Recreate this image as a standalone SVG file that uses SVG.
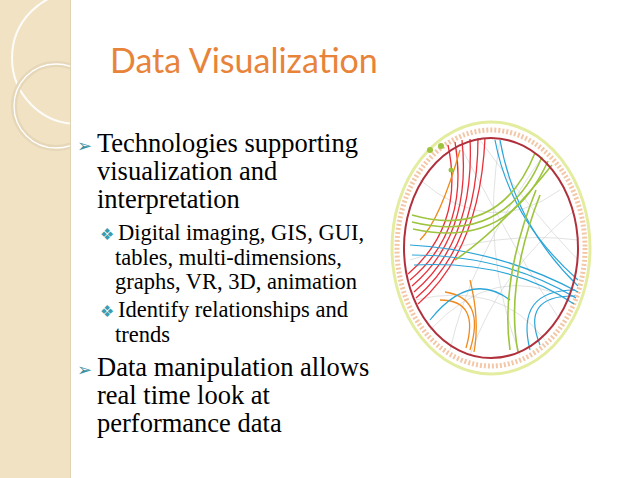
<svg xmlns="http://www.w3.org/2000/svg" width="638" height="478" viewBox="0 0 638 478">
<style>
.b{font-family:"Liberation Serif",serif;font-size:26.5px;fill:#000}
.s{font-family:"Liberation Serif",serif;font-size:22.5px;fill:#000}
.ar{fill:#3a8fa0;font-size:18px}
.dm{fill:#3a9cb0;font-size:16px}
.g{fill:none;stroke:#bbb;stroke-width:0.6;opacity:.7}
.r{fill:none;stroke:#e8303a;stroke-width:1.3}
.o{fill:none;stroke:#f08a1c;stroke-width:1.3}
.c{fill:none;stroke:#2aa5d8;stroke-width:1.2}
.l{fill:none;stroke:#9cc43c;stroke-width:1.6}
</style>
<defs><clipPath id="cp"><rect width="70" height="478"/></clipPath></defs>
<rect width="638" height="478" fill="#fff"/>
<rect width="70" height="478" fill="#f1e2c4"/>
<line x1="70.5" y1="0" x2="70.5" y2="478" stroke="#e0d2b4" stroke-width="1"/>
<g clip-path="url(#cp)">
<circle cx="78" cy="58" r="66" fill="none" stroke="#fff" stroke-width="2" opacity=".9"/>
<circle cx="56" cy="106" r="42" fill="none" stroke="#e6d7b8" stroke-width="6"/>
<circle cx="56" cy="106" r="42" fill="none" stroke="#fff" stroke-width="1.3"/>
</g>
<text x="110" y="73" font-family="Lato,sans-serif" font-size="34" fill="#e8833a">Data Visualization</text>
<g id="text">
<text class="b" x="77" y="152"><tspan class="ar">➢</tspan><tspan x="97">Technologies supporting</tspan></text>
<text class="b" x="97" y="180">visualization and</text>
<text class="b" x="97" y="208">interpretation</text>
<text class="s" x="100" y="240"><tspan class="dm">❖</tspan><tspan x="118">Digital imaging, GIS, GUI,</tspan></text>
<text class="s" x="115" y="265">tables, multi-dimensions,</text>
<text class="s" x="115" y="289">graphs, VR, 3D, animation</text>
<text class="s" x="100" y="317"><tspan class="dm">❖</tspan><tspan x="118">Identify relationships and</tspan></text>
<text class="s" x="115" y="342">trends</text>
<text class="b" x="77" y="376"><tspan class="ar">➢</tspan><tspan x="97">Data manipulation allows</tspan></text>
<text class="b" x="97" y="404">real time look at</text>
<text class="b" x="97" y="432">performance data</text>
</g>
<g id="chart">
<ellipse cx="491" cy="248" rx="99" ry="126" fill="none" stroke="#e4eca0" stroke-width="3"/>
<ellipse cx="491" cy="248" rx="94" ry="118" fill="none" stroke="#f3c8a8" stroke-width="5" stroke-dasharray="2 2"/>
<g class="g">
<path d="M420 180Q490 240 560 190"/><path d="M430 330Q495 260 570 300"/><path d="M500 140Q480 250 520 355"/>
<path d="M540 160Q470 260 450 350"/><path d="M410 260Q500 230 578 240"/><path d="M460 145Q520 260 560 320"/>
<path d="M575 210Q500 270 470 355"/><path d="M415 300Q500 280 545 340"/><path d="M480 140Q530 210 578 260"/>
</g>
<g class="r">
<path d="M455 142Q470 230 410 280"/><path d="M462 140Q472 235 412 286"/><path d="M470 139Q475 240 414 292"/>
<path d="M478 138Q478 245 416 298"/><path d="M485 138Q480 250 418 304"/><path d="M448 145Q465 225 408 274"/>
</g>
<g class="o">
<path d="M440 300Q480 300 466 348"/><path d="M445 292Q486 298 470 350"/><path d="M470 280Q480 320 474 352"/>
<path d="M460 150Q440 220 420 240"/>
</g>
<g class="c">
<path d="M495 140Q510 220 578 280"/><path d="M500 140Q515 225 578 286"/><path d="M410 245Q500 250 578 292"/>
<path d="M412 255Q505 255 576 298"/><path d="M414 265Q510 260 574 304"/><path d="M530 350Q515 290 575 290"/>
<path d="M540 345Q520 295 575 296"/><path d="M430 320Q470 270 510 300"/>
</g>
<g class="l">
<path d="M412 215Q500 240 535 153"/><path d="M412 222Q505 245 542 157"/><path d="M413 229Q508 250 548 161"/>
<path d="M455 260Q500 230 552 165"/><path d="M510 350Q500 280 536 190"/><path d="M518 352Q505 285 540 195"/>
</g>
<ellipse cx="491" cy="248" rx="87" ry="110" fill="none" stroke="#b0303c" stroke-width="2"/>
<circle cx="430" cy="150" r="3" fill="#9cc43c"/><circle cx="441" cy="146" r="3" fill="#9cc43c"/><circle cx="451" cy="170" r="2.5" fill="#9cc43c"/>
</g>
</svg>
